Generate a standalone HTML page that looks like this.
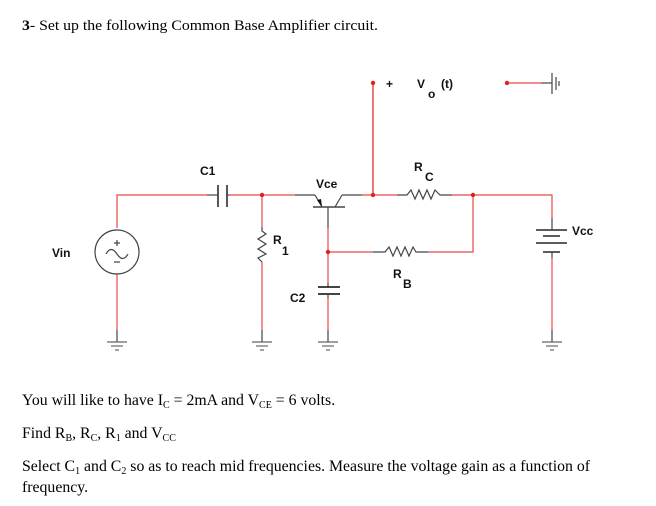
<!DOCTYPE html>
<html><head><style>
html,body{margin:0;padding:0;background:#fff;}
svg{display:block;}
.s{font-family:"Liberation Serif",serif;font-size:15px;fill:#000;}
.b{font-family:"Liberation Serif",serif;font-size:15.8px;fill:#000;}
.l{font-family:"Liberation Sans",sans-serif;font-weight:bold;font-size:12px;fill:#111;}
.sub{font-family:"Liberation Serif",serif;font-size:10px;}
</style></head><body>
<svg width="656" height="506" viewBox="0 0 656 506" xmlns="http://www.w3.org/2000/svg">
<defs>
<g id="g"><line x1="-10" y1="0" x2="10" y2="0"/><line x1="-6" y1="4" x2="6" y2="4"/><line x1="-2" y1="8" x2="2" y2="8"/></g>
</defs>
<text class="s" x="22" y="30" textLength="356" lengthAdjust="spacingAndGlyphs"><tspan font-weight="bold">3</tspan>- Set up the following Common Base Amplifier circuit.</text>

<g fill="none" stroke-width="1.2">
<g stroke="#e84848">
<polyline points="117,228 117,195 207,195"/>
<polyline points="229,195 295,195"/>
<line x1="262" y1="195" x2="262" y2="227"/>
<line x1="262" y1="262" x2="262" y2="330"/>
<line x1="117" y1="274" x2="117" y2="330"/>
<line x1="328" y1="228" x2="328" y2="283"/>
<line x1="328" y1="298" x2="328" y2="330"/>
<line x1="328" y1="252" x2="373" y2="252"/>
<polyline points="428,252 473,252 473,195"/>
<line x1="362" y1="195" x2="397" y2="195"/>
<polyline points="452,195 552,195 552,218"/>
<line x1="552" y1="258" x2="552" y2="330"/>
<line x1="373" y1="83" x2="373" y2="195" stroke="#e02020"/>
<line x1="507" y1="83" x2="541" y2="83"/>
</g>
<g stroke="#444">
<line x1="207" y1="195" x2="218" y2="195"/>
<line x1="227" y1="195" x2="229" y2="195"/>
<line x1="218" y1="185" x2="218" y2="207" stroke-width="1.8"/>
<line x1="227" y1="185" x2="227" y2="207" stroke-width="1.8"/>
<circle cx="117" cy="252" r="22"/>
<line x1="117" y1="330" x2="117" y2="342"/>
<line x1="262" y1="330" x2="262" y2="342"/>
<line x1="328" y1="330" x2="328" y2="342"/>
<line x1="552" y1="330" x2="552" y2="342"/>
<polyline points="262,227 262,231 266,234 258,239 266,244 258,249 266,254 258,258 262,262"/>
<line x1="295" y1="195" x2="315" y2="195"/>
<line x1="315" y1="195" x2="322" y2="207"/>
<line x1="313" y1="207" x2="345" y2="207" stroke-width="1.5"/>
<line x1="335" y1="207" x2="342" y2="195"/>
<line x1="342" y1="195" x2="362" y2="195"/>
<line x1="328" y1="207" x2="328" y2="228"/>
<line x1="318" y1="287" x2="340" y2="287" stroke-width="2"/>
<line x1="318" y1="294" x2="340" y2="294" stroke-width="2"/>
<line x1="328" y1="283" x2="328" y2="287"/>
<line x1="328" y1="294" x2="328" y2="298"/>
<polyline points="397,195 407,195 411,190 415,199 419,190 423,199 427,190 431,199 435,190 440,195 452,195"/>
<polyline points="373,252 385,252 389,247 393,256 397,247 401,256 405,247 409,256 413,247 416,252 428,252"/>
<line x1="552" y1="218" x2="552" y2="230"/>
<line x1="536" y1="230" x2="567" y2="230" stroke-width="1.8"/>
<line x1="543" y1="236" x2="560" y2="236" stroke-width="1.8"/>
<line x1="536" y1="243" x2="567" y2="243" stroke-width="1.8"/>
<line x1="543" y1="252" x2="560" y2="252" stroke-width="1.8"/>
<line x1="552" y1="252" x2="552" y2="258"/>
<line x1="541" y1="83" x2="552" y2="83"/>
<line x1="552" y1="73" x2="552" y2="94"/>
<line x1="556" y1="77" x2="556" y2="90"/>
<line x1="559" y1="81" x2="559" y2="86"/>
<path d="M106,254 q5,-9 11,0 q6,9 11,0"/>
<line x1="117" y1="240" x2="117" y2="246"/><line x1="114" y1="243" x2="120" y2="243"/>
<line x1="114" y1="262" x2="120" y2="262"/>
</g>
</g>
<g stroke="#666" stroke-width="1.2" fill="none">
<use href="#g" x="117" y="342"/><use href="#g" x="262" y="342"/><use href="#g" x="328" y="342"/><use href="#g" x="552" y="342"/>
</g>
<polygon points="322,207 317,200 321,199" fill="#111"/>
<g fill="#e02020">
<circle cx="262" cy="195" r="2.2"/><circle cx="373" cy="195" r="2.2"/><circle cx="473" cy="195" r="2.2"/>
<circle cx="328" cy="252" r="2.2"/><circle cx="373" cy="83" r="2.2"/><circle cx="507" cy="83" r="2.2"/>
</g>

<text class="l" x="200" y="175">C1</text>
<text class="l" x="316" y="188">Vce</text>
<text class="l" x="52" y="257">Vin</text>
<text class="l" x="273" y="244">R</text><text class="l" x="282" y="255">1</text>
<text class="l" x="290" y="302">C2</text>
<text class="l" x="572" y="235">Vcc</text>
<text class="l" x="414" y="171">R</text><text class="l" x="425" y="181">C</text>
<text class="l" x="393" y="278">R</text><text class="l" x="403" y="288">B</text>
<text class="l" x="386" y="88">+</text>
<text class="l" x="417" y="88">V</text><text class="l" x="428" y="98">o</text><text class="l" x="441" y="88">(t)</text>

<text class="b" x="22" y="405">You will like to have I<tspan class="sub" dy="3">C</tspan><tspan dy="-3"> = 2mA and V</tspan><tspan class="sub" dy="3">CE</tspan><tspan dy="-3"> = 6 volts.</tspan></text>
<text class="b" x="22" y="438">Find R<tspan class="sub" dy="3">B</tspan><tspan dy="-3">, R</tspan><tspan class="sub" dy="3">C</tspan><tspan dy="-3">, R</tspan><tspan class="sub" dy="3">1</tspan><tspan dy="-3"> and V</tspan><tspan class="sub" dy="3">CC</tspan></text>
<text class="b" x="22" y="471">Select C<tspan class="sub" dy="3">1</tspan><tspan dy="-3"> and C</tspan><tspan class="sub" dy="3">2</tspan><tspan dy="-3"> so as to reach mid frequencies.  Measure the voltage gain as a function of</tspan></text>
<text class="b" x="22" y="492">frequency.</text>
</svg>
</body></html>
